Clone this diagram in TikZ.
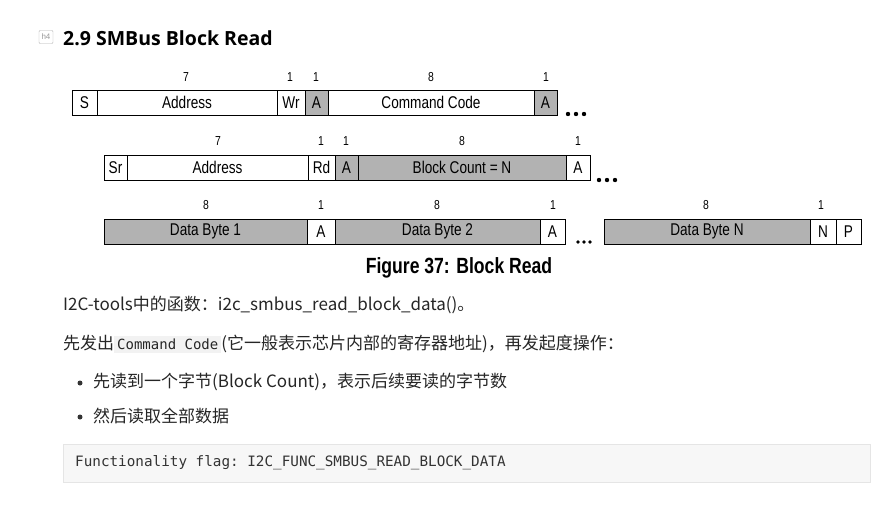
\documentclass[tikz,border=0pt]{standalone}
\usepackage{fontspec}
\setmainfont{Liberation Sans}
\setmonofont{DejaVu Sans Mono}
\newfontfamily\narrow[FakeStretch=0.8]{Liberation Sans}
\newfontfamily\cjk{Noto Sans CJK SC}
\newfontfamily\head{Open Sans}
\begin{document}
\begin{tikzpicture}[x=1pt,y=-1pt,
 fld/.style={draw=black,line width=0.8pt,fill=white},
 gfld/.style={draw=black,line width=0.8pt,fill=gray!60},
 lab/.style={font=\fontsize{17}{17}\selectfont\narrow,inner sep=0},
 num/.style={font=\fontsize{13}{13}\selectfont\narrow,inner sep=0},
 dot/.style={fill=black,radius=2.2pt},
 body/.style={font=\fontsize{17}{18}\selectfont\cjk,anchor=west,inner sep=0,text=black!85}]
\useasboundingbox[fill=white] (0,0) rectangle (892,504);
\node[draw=black!30,rounded corners=1pt,minimum width=14pt,minimum height=13pt,inner sep=0,font=\fontsize{8}{8}\selectfont,text=black!40] (icon) at (46,37) {h4};
\node[anchor=west,inner sep=0,font=\fontsize{19.5}{19.5}\selectfont\head\bfseries] (title) at (63,38) {2.9 SMBus Block Read};
% row 1
\foreach \a/\b/\t/\s/\n in {72/97/S/fld/r1a,97/277/Address/fld/r1b,277/305/Wr/fld/r1c,305/328/A/gfld/r1d,328/534/Command Code/fld/r1e,534/557/A/gfld/r1f}
 {\draw[\s] (\a,90) rectangle (\b,115); \node[lab] (\n) at ({(\a+\b)/2},102.5) {\t};}
\foreach \x/\v in {186/7,290/1,316/1,431/8,546/1} \node[num] at (\x,77) {\v};
\foreach \x in {568,576,584} \fill[dot] (\x,114) circle;
% row 2
\foreach \a/\b/\t/\s/\n in {104/127/Sr/fld/r2a,127/308/Address/fld/r2b,308/335/Rd/fld/r2c,335/358/A/gfld/r2d,358/566/Block Count = N/gfld/r2e,566/590/A/fld/r2f}
 {\draw[\s] (\a,155) rectangle (\b,180); \node[lab] (\n) at ({(\a+\b)/2},167.5) {\t};}
\foreach \x/\v in {218/7,321/1,346/1,462/8,578/1} \node[num] at (\x,141) {\v};
\foreach \x in {599,607,615} \fill[dot] (\x,180) circle;
% row 3
\foreach \a/\b/\t/\s/\n in {104/307/Data Byte 1/gfld/r3a,307/335/A/fld/r3b,335/540/Data Byte 2/gfld/r3c,540/565/A/fld/r3d,604/810/Data Byte N/gfld/r3e,810/836/N/fld/r3f,836/861/P/fld/r3g}
 {\draw[\s] (\a,219) rectangle (\b,244); \node[lab] (\n) at ({(\a+\b)/2},231.5) {\t};}
\foreach \x/\v in {206/8,321/1,437/8,553/1,706/8,821/1} \node[num] at (\x,205) {\v};
\foreach \x in {578,584,590} \fill[dot,radius=1.9pt] (\x,242) circle;
\node[inner sep=0,font=\fontsize{22}{22}\selectfont\narrow\bfseries] (cap) at (459,268) {Figure 37: Block Read};
% text
\node[body] (t1) at (63,305) {I2C-tools中的函数：i2c\_smbus\_read\_block\_data()。};
\node[body] (t2) at (63,344) {先发出\colorbox{black!5}{\fontsize{14}{14}\selectfont\ttfamily Command Code}(它一般表示芯片内部的寄存器地址)，再发起度操作：};
\fill[black!80] (80,383) circle (2.5);
\fill[black!80] (80,417) circle (2.5);
\node[body] (t3) at (93,382) {先读到一个字节(Block Count)，表示后续要读的字节数};
\node[body] (t4) at (93,416) {然后读取全部数据};
\draw[fill=black!3,draw=black!10] (63,444) rectangle (870,482);
\node[anchor=west,inner sep=0,font=\fontsize{14.3}{14.3}\selectfont\ttfamily,text=black!80] (code) at (75,463) {Functionality flag: I2C\_FUNC\_SMBUS\_READ\_BLOCK\_DATA};
\end{tikzpicture}
\end{document}
